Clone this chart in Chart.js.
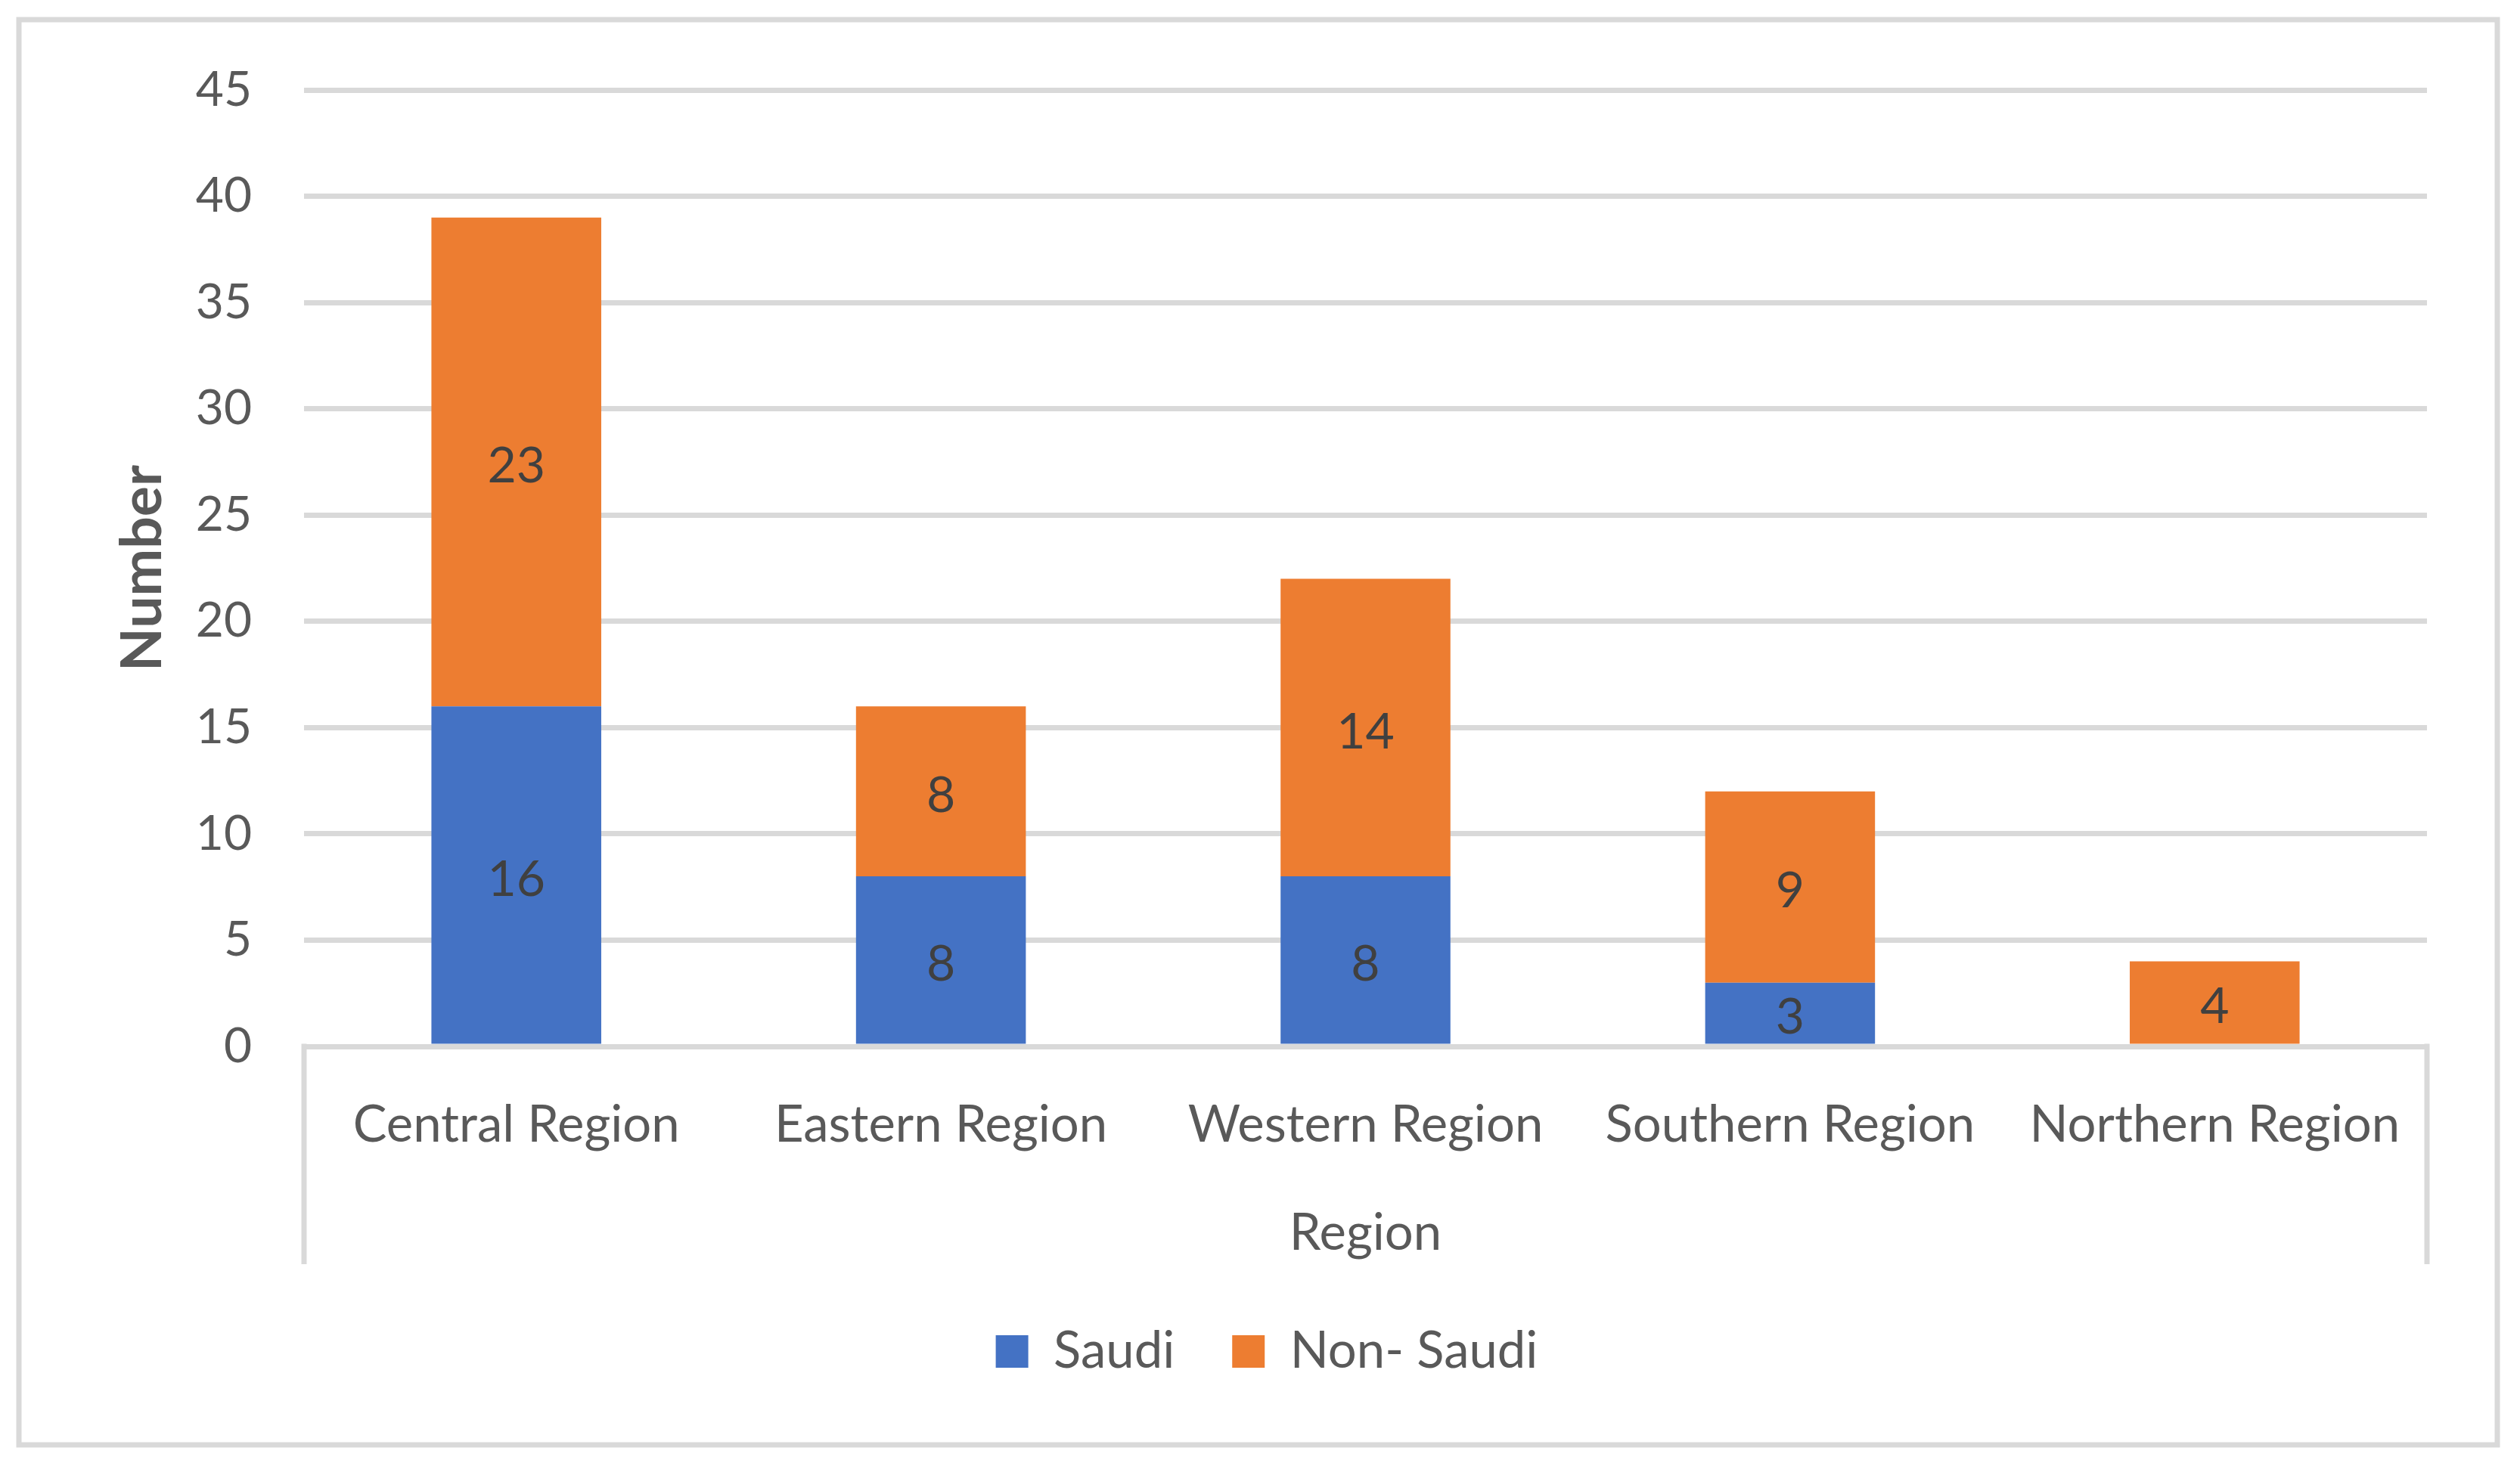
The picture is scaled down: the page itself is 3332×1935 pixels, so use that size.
<!DOCTYPE html>
<html>
<head>
<meta charset="utf-8">
<title>Number by Region</title>
<script src="https://cdn.jsdelivr.net/npm/chart.js@4.4.1/dist/chart.umd.min.js"></script>
<style>
  html, body { margin: 0; padding: 0; background: #fff; }
  canvas { display: block; }
</style>
</head>
<body>
<canvas id="regionChart" width="3332" height="1935"></canvas>
<script>
// data
const regions = ['Central Region', 'Eastern Region', 'Western Region', 'Southern Region', 'Northern Region'];
const saudi = [16, 8, 8, 3, 0];
const nonSaudi = [23, 8, 14, 9, 4];
const seriesNames = ['Saudi', 'Non- Saudi'];
const yMax = 45;
const yStep = 5;

const grey = '#595959';
const lineGrey = '#d9d9d9';
const tickFont = { family: 'Lato', size: 64 };
const textFont = { family: 'Lato', size: 67 };

// white background, outer frame, and the box round the category labels
const framePlugin = {
    id: 'frame',
    beforeDraw(chart) {
        const ctx = chart.ctx;
        ctx.save();
        ctx.fillStyle = '#ffffff';
        ctx.fillRect(0, 0, chart.width, chart.height);
        ctx.strokeStyle = lineGrey;
        ctx.lineWidth = 7;
        ctx.strokeRect(25, 26, 3277, 1885);
        ctx.restore();
    },
    afterDraw(chart) {
        const { ctx, chartArea } = chart;
        ctx.save();
        ctx.strokeStyle = lineGrey;
        ctx.lineWidth = 7;
        ctx.beginPath();
        [chartArea.left, chartArea.right].forEach(x => {
            ctx.moveTo(x, chartArea.bottom - 3.5);
            ctx.lineTo(x, chartArea.bottom + 288);
        });
        ctx.stroke();
        ctx.restore();
    }
};

// value written in the middle of each segment (zero segments get none)
const valueLabels = {
    id: 'valueLabels',
    afterDatasetsDraw(chart) {
        const ctx = chart.ctx;
        ctx.save();
        ctx.font = '66px Lato';
        ctx.fillStyle = '#404040';
        ctx.textAlign = 'center';
        ctx.textBaseline = 'middle';
        chart.data.datasets.forEach((ds, i) => {
            chart.getDatasetMeta(i).data.forEach((bar, j) => {
                const v = ds.data[j];
                if (!v) return;
                const { x, y, base } = bar.getProps(['x', 'y', 'base'], true);
                ctx.fillText(v, x, (y + base) / 2 + 6);
            });
        });
        ctx.restore();
    }
};

function createChart() {
    const ctx = document.getElementById('regionChart').getContext('2d');
    new Chart(ctx, {
        type: 'bar',
        data: {
            labels: regions,
            datasets: [
                { label: seriesNames[0], data: saudi, backgroundColor: '#4472c4', barPercentage: 0.4, categoryPercentage: 1 },
                { label: seriesNames[1], data: nonSaudi, backgroundColor: '#ed7d31', barPercentage: 0.4, categoryPercentage: 1 }
            ]
        },
        options: {
            responsive: false,
            devicePixelRatio: 1,
            animation: false,
            layout: { padding: { left: 141, right: 123, top: 119, bottom: 104 } },
            plugins: {
                legend: {
                    position: 'bottom',
                    labels: { boxWidth: 43, boxHeight: 43, padding: 76, color: grey, font: textFont }
                },
                tooltip: { enabled: false }
            },
            scales: {
                x: {
                    stacked: true,
                    grid: { display: false },
                    border: { display: false },
                    ticks: { color: grey, font: textFont, padding: 56, autoSkip: false, maxRotation: 0 },
                    title: { display: true, text: 'Region', color: grey, font: textFont, padding: { top: 0, bottom: 6 } },
                    afterFit(scale) { scale.height = 294; }
                },
                y: {
                    stacked: true,
                    min: 0,
                    max: yMax,
                    ticks: { stepSize: yStep, padding: 69, color: grey, font: tickFont },
                    grid: { color: lineGrey, lineWidth: 7, drawTicks: false },
                    border: { display: false },
                    title: {
                        display: true, text: 'Number', color: grey,
                        font: { family: 'Lato', size: 75, weight: 'bold' },
                        padding: { top: 3, bottom: 0 }
                    },
                    afterFit(scale) { scale.width = 261; }
                }
            }
        },
        plugins: [framePlugin, valueLabels]
    });
}

if (document.fonts && document.fonts.load) {
    Promise.all([document.fonts.load('64px Lato'), document.fonts.load('bold 75px Lato')])
        .then(createChart, createChart);
} else {
    createChart();
}
</script>
</body>
</html>
